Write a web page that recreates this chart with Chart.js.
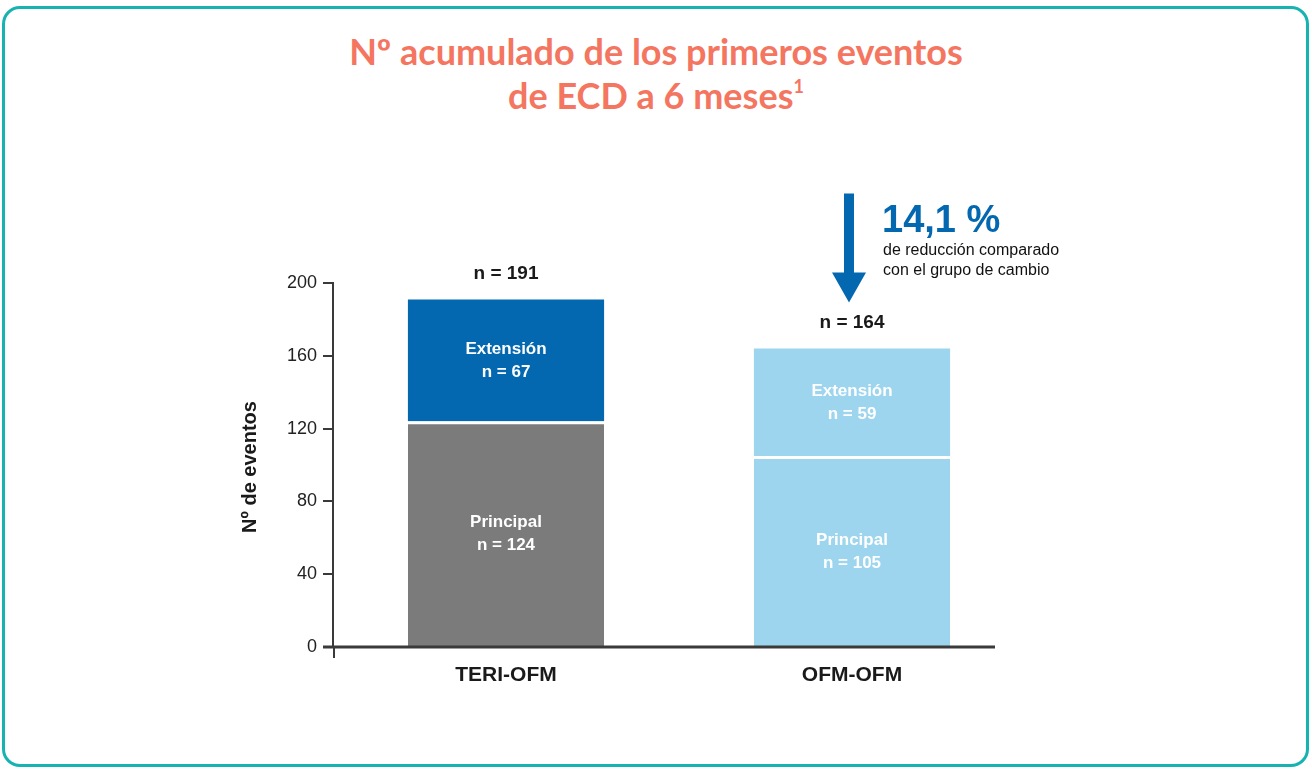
<!DOCTYPE html>
<html>
<head>
<meta charset="utf-8">
<script src="https://cdn.jsdelivr.net/npm/chart.js@4.4.1/dist/chart.umd.min.js"></script>
<style>
  html, body { margin: 0; padding: 0; background: #fff; }
  #wrap { position: relative; width: 1312px; height: 774px; overflow: hidden; }
  #frame {
    position: absolute; left: 2px; top: 6px; width: 1301px; height: 755px;
    border: 3px solid #17b3b1; border-radius: 18px;
  }
  #title {
    position: absolute; left: 0; top: 29px; width: 1312px; text-align: center;
    font-family: Lato, "Noto Sans", sans-serif; font-weight: 700; font-size: 36px;
    line-height: 44px; color: #f47560;
  }
  #title sup { font-size: 18px; vertical-align: 16px; line-height: 0; }
  canvas { position: absolute; left: 0; top: 0; }
</style>
</head>
<body>
<div id="wrap">
  <div id="frame"></div>
  <div id="title">Nº acumulado de los primeros eventos<br>de ECD a 6 meses<sup>1</sup></div>
  <canvas id="myChart" width="1312" height="774"></canvas>
</div>
<script>
const categories = ["TERI-OFM", "OFM-OFM"];
const principal = [124, 105];
const extension = [67, 59];
const totals = [191, 164];
const yTicks = [0, 40, 80, 120, 160, 200];
const principalColors = ["#7b7b7b", "#9dd5ee"];
const extensionColors = ["#0468b1", "#9dd5ee"];
const segmentNames = ["Principal", "Extensión"];
const yTitle = "Nº de eventos";
const reductionLabel = "14,1 %";
const reductionNote = ["de reducción comparado", "con el grupo de cambio"];

const FONT = "'Liberation Sans', Arial, sans-serif";
const blue = "#0468b1";

// labels inside the segments, totals on top, axis lines and the arrow
const overlay = {
  id: "overlay",
  afterDatasetsDraw(chart) {
    const ctx = chart.ctx;
    const area = chart.chartArea;
    const y = chart.scales.y;
    const y0 = y.getPixelForValue(0);
    ctx.save();

    // axis lines
    ctx.strokeStyle = "#3a3a3a";
    ctx.lineWidth = 3;
    ctx.beginPath();
    ctx.moveTo(area.left - 10, y0);
    ctx.lineTo(area.right - 30, y0);
    ctx.stroke();
    ctx.lineWidth = 2;
    ctx.beginPath();
    ctx.moveTo(area.left + 1, y0);
    ctx.lineTo(area.left + 1, y0 + 11);
    ctx.stroke();

    // y title
    ctx.save();
    ctx.translate(250, (y.top + y.bottom) / 2 + 2);
    ctx.rotate(-Math.PI / 2);
    ctx.fillStyle = "#1a1a1a";
    ctx.font = "bold 20px " + FONT;
    ctx.textAlign = "center";
    ctx.textBaseline = "middle";
    ctx.fillText(yTitle, 0, 0);
    ctx.restore();

    // segment labels
    ctx.textAlign = "center";
    ctx.textBaseline = "middle";
    ctx.font = "bold 17px " + FONT;
    ctx.fillStyle = "#ffffff";
    chart.data.datasets.forEach((ds, di) => {
      chart.getDatasetMeta(di).data.forEach((bar, i) => {
        const mid = (bar.y + bar.base) / 2;
        ctx.fillText(segmentNames[di], bar.x, mid - 11);
        ctx.fillText("n = " + ds.data[i], bar.x, mid + 12);
      });
    });

    // totals above bars
    const top = chart.getDatasetMeta(1).data;
    ctx.fillStyle = "#1a1a1a";
    ctx.font = "bold 19px " + FONT;
    top.forEach((bar, i) => {
      ctx.fillText("n = " + totals[i], bar.x, bar.y - 26);
    });

    // reduction arrow over the second bar
    const b = top[1];
    const tipX = b.x - 3;
    const tipY = b.y - 46;
    ctx.fillStyle = blue;
    ctx.beginPath();
    ctx.moveTo(tipX - 5, tipY - 109);
    ctx.lineTo(tipX + 5, tipY - 109);
    ctx.lineTo(tipX + 5, tipY - 30);
    ctx.lineTo(tipX + 17, tipY - 30);
    ctx.lineTo(tipX, tipY);
    ctx.lineTo(tipX - 17, tipY - 30);
    ctx.lineTo(tipX - 5, tipY - 30);
    ctx.closePath();
    ctx.fill();

    ctx.textAlign = "left";
    ctx.textBaseline = "alphabetic";
    ctx.font = "bold 38px " + FONT;
    ctx.fillText(reductionLabel, tipX + 33, tipY - 71);
    ctx.fillStyle = "#111";
    ctx.font = "16px " + FONT;
    ctx.fillText(reductionNote[0], tipX + 34, tipY - 48);
    ctx.fillText(reductionNote[1], tipX + 34, tipY - 28);
    ctx.restore();
  }
};

const ctx = document.getElementById("myChart").getContext("2d");
new Chart(ctx, {
  type: "bar",
  data: {
    labels: categories,
    datasets: [
      {
        label: segmentNames[0],
        data: principal,
        backgroundColor: principalColors,
        borderColor: "#ffffff",
        borderWidth: { top: 3, left: 0, right: 0, bottom: 0 },
        borderSkipped: false,
        barPercentage: 0.567,
        categoryPercentage: 1
      },
      {
        label: segmentNames[1],
        data: extension,
        backgroundColor: extensionColors,
        borderWidth: 0,
        barPercentage: 0.567,
        categoryPercentage: 1
      }
    ]
  },
  options: {
    responsive: false,
    animation: false,
    devicePixelRatio: 1,
    layout: { padding: { top: 283, right: 287, left: 0, bottom: 0 } },
    plugins: { legend: { display: false }, tooltip: { enabled: false } },
    scales: {
      x: {
        stacked: true,
        grid: { display: false, drawTicks: false },
        border: { display: false },
        ticks: { color: "#1a1a1a", font: { family: FONT, size: 21, weight: "bold" }, padding: 16 },
        afterFit: (s) => { s.height = 127; }
      },
      y: {
        stacked: true,
        min: 0,
        max: 200,
        afterBuildTicks: (s) => { s.ticks = yTicks.map((v) => ({ value: v })); },
        grid: { drawOnChartArea: false, drawTicks: true, tickLength: 10, color: "#3a3a3a", lineWidth: 2 },
        border: { display: true, color: "#3a3a3a", width: 2 },
        ticks: { color: "#222", font: { family: FONT, size: 18 }, padding: 6 },
        afterFit: (s) => { s.width = 333; }
      }
    }
  },
  plugins: [overlay]
});
</script>
</body>
</html>
